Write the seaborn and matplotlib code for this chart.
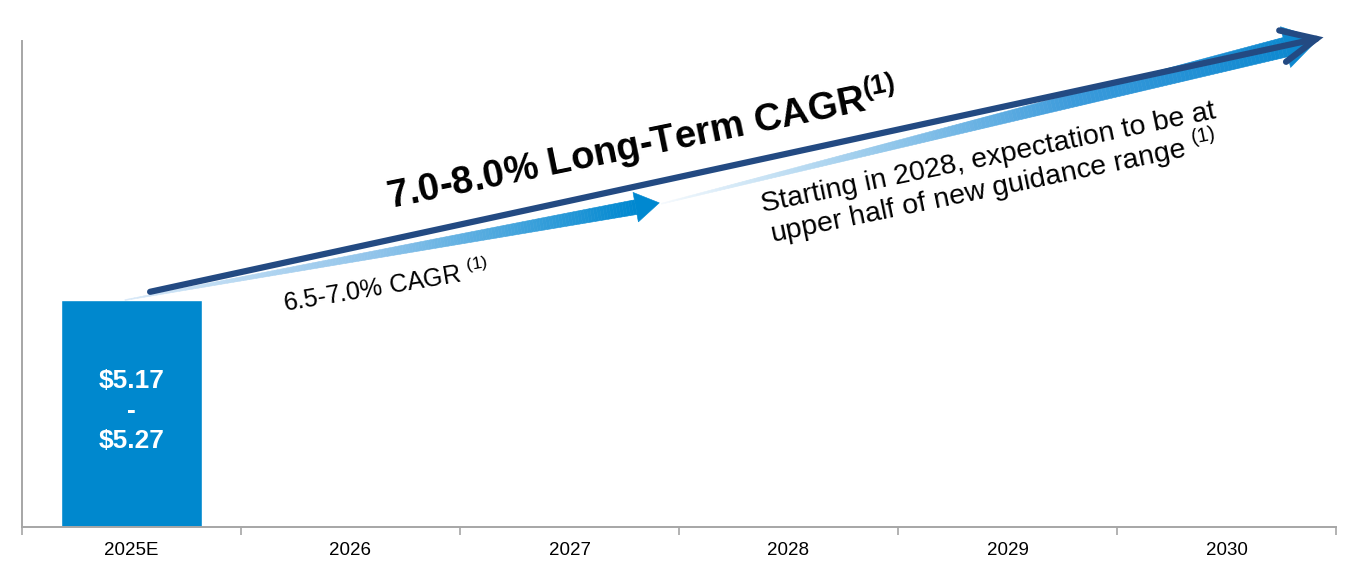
import numpy as np
import pandas as pd
import matplotlib
matplotlib.use("Agg")
import matplotlib.pyplot as plt
import seaborn as sns
from matplotlib.colors import LinearSegmentedColormap

# --- dados do gráfico ---
years = ["2025E", "2026", "2027", "2028", "2029", "2030"]
eps_low = [5.17, np.nan, np.nan, np.nan, np.nan, np.nan]
eps_high = [5.27, np.nan, np.nan, np.nan, np.nan, np.nan]
bar_label = "\\$5.17\n-\n\\$5.27"

title_text = "7.0-8.0% Long-Term CAGR$^{\\mathbf{(1)}}$"
near_text = "6.5-7.0% CAGR $^{(1)}$"
upper_lines = ["Starting in 2028, expectation to be at",
               "upper half of new guidance range $^{(1)}$"]

# setas (coordenadas em unidades do eixo: índice da categoria, valor)
long_term_start, long_term_end = (0.085, 5.42), (5.41, 11.25)
near_term_start, near_term_end = (-0.03, 5.23), (2.41, 7.47)
upper_start, upper_end = (2.42, 7.45), (5.42, 11.25)

BAR_BLUE = "#0088CE"
NAVY = "#234A82"
GRID_GREY = "#A6A6A6"

sns.set_style("white")
plt.rcParams["font.family"] = ["Liberation Sans", "DejaVu Sans"]
plt.rcParams["text.color"] = "black"
plt.rcParams["mathtext.fontset"] = "custom"
plt.rcParams["mathtext.rm"] = "Liberation Sans"
plt.rcParams["mathtext.bf"] = "Liberation Sans:bold"


def to_px(ax, pts):
    return ax.transData.transform(np.asarray(pts, dtype=float))


def to_data(ax, pts):
    return ax.transData.inverted().transform(np.asarray(pts, dtype=float))


def gradient_arrow(ax, start, end, cmap, shaft_w, head_w, head_len, n=160):
    p0, p1 = to_px(ax, [start, end])
    d = p1 - p0
    u = d / np.hypot(*d)
    nrm = np.array([-u[1], u[0]])
    base = p1 - u * head_len
    ts = np.linspace(0, 1, n + 1)
    for i in range(n):
        a = p0 + (base - p0) * ts[i]
        b = p0 + (base - p0) * ts[i + 1]
        wa = 0.4 + shaft_w * ts[i] / 2
        wb = 0.4 + shaft_w * ts[i + 1] / 2
        poly = to_data(ax, [a + nrm * wa, b + nrm * wb, b - nrm * wb, a - nrm * wa])
        c = cmap(ts[i])
        ax.fill(poly[:, 0], poly[:, 1], color=c, ec=c, lw=0.4, zorder=3, clip_on=False)
    head = to_data(ax, [base + nrm * head_w / 2, p1, base - nrm * head_w / 2])
    ax.fill(head[:, 0], head[:, 1], color=cmap(1.0), ec=cmap(1.0), lw=0.4, zorder=3, clip_on=False)


def open_arrow(ax, start, end, color, lw, arm_len=38, arm_ang=25):
    ax.plot([start[0], end[0]], [start[1], end[1]], color=color, lw=lw,
            solid_capstyle="round", zorder=4, clip_on=False)
    p0, p1 = to_px(ax, [start, end])
    back = (p0 - p1) / np.hypot(*(p0 - p1))
    arms = []
    for s in (1, -1):
        a = np.deg2rad(s * arm_ang)
        rot = np.array([[np.cos(a), -np.sin(a)], [np.sin(a), np.cos(a)]])
        arms.append(p1 + rot @ back * arm_len)
    pts = to_data(ax, [arms[0], p1, arms[1]])
    ax.plot(pts[:, 0], pts[:, 1], color=color, lw=lw, solid_capstyle="round",
            solid_joinstyle="miter", zorder=4, clip_on=False)


df = pd.DataFrame({"year": years, "low": eps_low, "high": eps_high})
df["mid"] = (df["low"] + df["high"]) / 2

fig = plt.figure(figsize=(13.6, 5.72), dpi=100)
ax = fig.add_axes([22 / 1360, 45 / 572, 1314 / 1360, 486 / 572])

sns.barplot(data=df, x="year", y="mid", order=years, color=BAR_BLUE,
            saturation=1, width=0.64, ax=ax, zorder=2)

ax.set_xlim(-0.5, len(years) - 0.5)
ax.set_ylim(0, 11.2)
ax.set_xlabel("")
ax.set_ylabel("")
ax.set_yticks([])
ax.set_xticks(np.arange(-0.5, len(years)), minor=True)
ax.tick_params(axis="x", which="major", bottom=True, length=0, pad=11,
               labelsize=13.5, labelcolor="black")
ax.tick_params(axis="x", which="minor", bottom=True, length=5.5, width=1.2,
               color=GRID_GREY, direction="out")
for side in ("top", "right"):
    ax.spines[side].set_visible(False)
for side in ("left", "bottom"):
    ax.spines[side].set_color(GRID_GREY)
    ax.spines[side].set_linewidth(1.4)

# rótulo da barra
ax.text(0, 2.68, bar_label, color="white", fontsize=19, fontweight="bold",
        ha="center", va="center", linespacing=1.32, zorder=5)

# setas em gradiente
cmap_near = LinearSegmentedColormap.from_list("near", ["#D8E9F8", "#8EC3EA", "#0088D0"])
cmap_upper = LinearSegmentedColormap.from_list(
    "upper", ["#F4F9FD", "#9ACBEC", "#3A9ADB", "#0E89D0"], N=256)
gradient_arrow(ax, near_term_start, near_term_end, cmap_near, shaft_w=14, head_w=30, head_len=24)
gradient_arrow(ax, upper_start, upper_end, cmap_upper, shaft_w=19, head_w=42, head_len=34)

# seta escura de longo prazo
open_arrow(ax, long_term_start, long_term_end, NAVY, lw=4.5)

# textos
ax.text(1.18, 7.305, title_text, fontsize=27.5, fontweight="bold", rotation=11.6,
        rotation_mode="anchor", ha="left", va="baseline", zorder=6)
ax.text(0.70, 4.955, near_text, fontsize=18, rotation=9.5,
        rotation_mode="anchor", ha="left", va="baseline", zorder=6)
ax.text(2.884, 7.259, upper_lines[0], fontsize=20.5, rotation=11.7,
        rotation_mode="anchor", ha="left", va="baseline", zorder=6)
ax.text(2.925, 6.545, upper_lines[1], fontsize=20.5, rotation=11.7,
        rotation_mode="anchor", ha="left", va="baseline", zorder=6)

fig.savefig("out.png", dpi=100)
plt.close(fig)
